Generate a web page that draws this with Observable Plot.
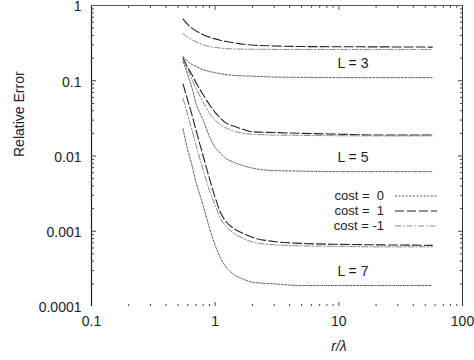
<!DOCTYPE html>
<html><head><meta charset="utf-8">
<script src="https://cdn.jsdelivr.net/npm/d3@7"></script>
<script src="https://cdn.jsdelivr.net/npm/@observablehq/plot@0.6"></script>
<style>
body{margin:0;background:#fff;}
#wrap{position:relative;width:474px;height:360px;font-family:"Liberation Sans",Arial,sans-serif;color:#222;}
#legend{position:absolute;left:300px;top:188px;font-size:13px;line-height:15px;}
#legend .row{display:flex;align-items:center;height:15px;}
#legend .lab{width:84px;text-align:right;white-space:pre;}
#legend svg{margin-left:11px;}
</style></head><body><div id="wrap"></div><script>
// ---- data ----
const xGrid = [0.55,0.6,0.65,0.7,0.8,0.9,1.0,1.1,1.2,1.4,1.7,2,3,5,10,20,57];
const L3_cost1  = [0.66,0.56,0.50,0.46,0.41,0.38,0.36,0.345,0.335,0.32,0.305,0.298,0.29,0.285,0.283,0.282,0.28];
const L3_costm1 = [0.42,0.38,0.35,0.33,0.30,0.285,0.277,0.272,0.268,0.265,0.263,0.262,0.261,0.26,0.26,0.26,0.26];
const L3_cost0  = [0.21,0.18,0.165,0.155,0.14,0.133,0.128,0.124,0.121,0.118,0.116,0.115,0.112,0.111,0.11,0.11,0.11];
const L5_cost1  = [0.20,0.15,0.12,0.095,0.065,0.048,0.038,0.032,0.028,0.025,0.0225,0.021,0.0205,0.02,0.0195,0.019,0.019];
const L5_costm1 = [0.19,0.14,0.105,0.08,0.052,0.037,0.03,0.026,0.024,0.0215,0.02,0.0195,0.019,0.0188,0.0186,0.0185,0.0185];
const L5_cost0  = [0.18,0.12,0.08,0.05,0.03,0.018,0.013,0.011,0.0095,0.0083,0.0074,0.0069,0.0064,0.0063,0.0062,0.0062,0.0062];
const L7_cost1  = [0.09,0.055,0.035,0.022,0.01,0.005,0.0028,0.0018,0.0014,0.0011,0.00093,0.00083,0.00073,0.00069,0.00067,0.00066,0.00065];
const L7_costm1 = [0.058,0.035,0.022,0.014,0.0065,0.0035,0.0022,0.0015,0.0012,0.00095,0.0008,0.00072,0.00066,0.00064,0.00063,0.00062,0.00062];
const L7_cost0  = [0.023,0.012,0.0075,0.0045,0.0022,0.0011,0.00065,0.00045,0.00035,0.00027,0.00023,0.00021,0.0002,0.00019,0.00019,0.00019,0.00019];

const xTickValues = [0.1,1,10,100];
const xTickLabels = ["0.1","1","10","100"];
const yTickValues = [0.0001,0.001,0.01,0.1,1];
const yTickLabels = ["0.0001","0.001","0.01","0.1","1"];
const lLabels = ["L = 3","L = 5","L = 7"];
const lLabelX = [13,13,13];
const lLabelY = [0.17,0.0095,0.00029];
const costNames = ["cost =  0","cost =  1","cost = -1"];

// ---- build table ----
const seriesDefs = [
  ["L3","0",L3_cost0],["L3","1",L3_cost1],["L3","-1",L3_costm1],
  ["L5","0",L5_cost0],["L5","1",L5_cost1],["L5","-1",L5_costm1],
  ["L7","0",L7_cost0],["L7","1",L7_cost1],["L7","-1",L7_costm1]
];
const rows = [];
for (const [L,c,vals] of seriesDefs) vals.forEach((v,i)=>rows.push({L, cost:c, x:xGrid[i], y:v}));

const styles = {
  "0":  {stroke:"#555", dash:"2,1.6", width:1},
  "1":  {stroke:"#222", dash:"9,3", width:1.1},
  "-1": {stroke:"#888", dash:"6,2,1.5,2", width:1}
};

const decades = [0.0001,0.001,0.01,0.1];
const yMinor = decades.flatMap(d=>[2,3,4,5,6,7,8,9].map(k=>k*d));
const xMinor = [0.1,1,10].flatMap(d=>[2,3,4,5,6,7,8,9].map(k=>k*d));
const xMajorInner = [1,10];
const yMajorInner = [0.001,0.01,0.1];

const fmt = (vals, labs) => d => labs[vals.findIndex(v=>Math.abs(v-d)/v<1e-9)];

const lineMarks = ["0","1","-1"].map(c => Plot.line(rows.filter(r=>r.cost===c), {
  x:"x", y:"y", z:"L", curve:"monotone-x",
  stroke:styles[c].stroke, strokeDasharray:styles[c].dash, strokeWidth:styles[c].width
}));

const chart = Plot.plot({
  width:474, height:360,
  marginLeft:91, marginRight:12, marginTop:5, marginBottom:54,
  x:{type:"log", domain:[0.1,100]},
  y:{type:"log", domain:[0.0001,1]},
  style:{fontFamily:"'Liberation Sans', Arial, sans-serif", fontSize:"14px", color:"#222", background:"#fff", overflow:"visible"},
  marks:[
    // frame (left, top, right)
    Plot.ruleX([0.1], {stroke:"#222", strokeWidth:1.2}),
    Plot.ruleX([100], {stroke:"#333", strokeWidth:1}),
    Plot.ruleY([1], {stroke:"#555", strokeWidth:1}),
    // tick labels
    Plot.axisY(yTickValues, {anchor:"left", tickSize:0, tickPadding:10, dy:1.5, tickFormat:fmt(yTickValues,yTickLabels), label:null, fontSize:14}),
    Plot.axisX(xTickValues, {anchor:"bottom", tickSize:0, tickPadding:10, tickFormat:fmt(xTickValues,xTickLabels), label:null, fontSize:14}),
    // inward ticks
    Plot.axisY(yMinor, {anchor:"left", tickSize:-3, fill:"none", stroke:"#444"}),
    Plot.axisY(yMajorInner, {anchor:"left", tickSize:-5, fill:"none", stroke:"#444"}),
    Plot.axisY(yMinor, {anchor:"right", tickSize:-3, fill:"none", stroke:"#444"}),
    Plot.axisY(yMajorInner, {anchor:"right", tickSize:-5, fill:"none", stroke:"#444"}),
    Plot.axisX(xMinor, {anchor:"top", tickSize:-2, fill:"none", stroke:"#555"}),
    Plot.axisX(xMajorInner, {anchor:"top", tickSize:-4, fill:"none", stroke:"#555"}),
    Plot.axisX(xMinor, {anchor:"bottom", tickSize:-2, fill:"none", stroke:"#444"}),
    Plot.axisX(xMajorInner, {anchor:"bottom", tickSize:-4, fill:"none", stroke:"#444"}),
    // curves
    ...lineMarks,
    // annotations
    Plot.text(lLabels, {x:(d,i)=>lLabelX[i], y:(d,i)=>lLabelY[i], text:d=>d, fontSize:14, fill:"#222"}),
    Plot.text(["Relative Error"], {frameAnchor:"left", rotate:-90, dx:-72, dy:1, fontSize:14, fill:"#222"}),
    Plot.text(["r/λ"], {frameAnchor:"bottom", dx:62, dy:44, fontSize:14, fontStyle:"italic", fill:"#222"})
  ]
});

const wrap = document.getElementById("wrap");
wrap.appendChild(chart);

// legend overlay
const leg = document.createElement("div");
leg.id = "legend";
["0","1","-1"].forEach((c,i)=>{
  const row = document.createElement("div"); row.className="row";
  const lab = document.createElement("span"); lab.className="lab"; lab.textContent = costNames[i];
  row.appendChild(lab);
  const ns="http://www.w3.org/2000/svg";
  const s = document.createElementNS(ns,"svg"); s.setAttribute("width","42"); s.setAttribute("height","6");
  const ln = document.createElementNS(ns,"line");
  ln.setAttribute("x1","0"); ln.setAttribute("x2","42"); ln.setAttribute("y1","3"); ln.setAttribute("y2","3");
  ln.setAttribute("stroke",styles[c].stroke); ln.setAttribute("stroke-dasharray",styles[c].dash); ln.setAttribute("stroke-width",styles[c].width);
  s.appendChild(ln); row.appendChild(s); leg.appendChild(row);
});
wrap.appendChild(leg);
</script></body></html>
